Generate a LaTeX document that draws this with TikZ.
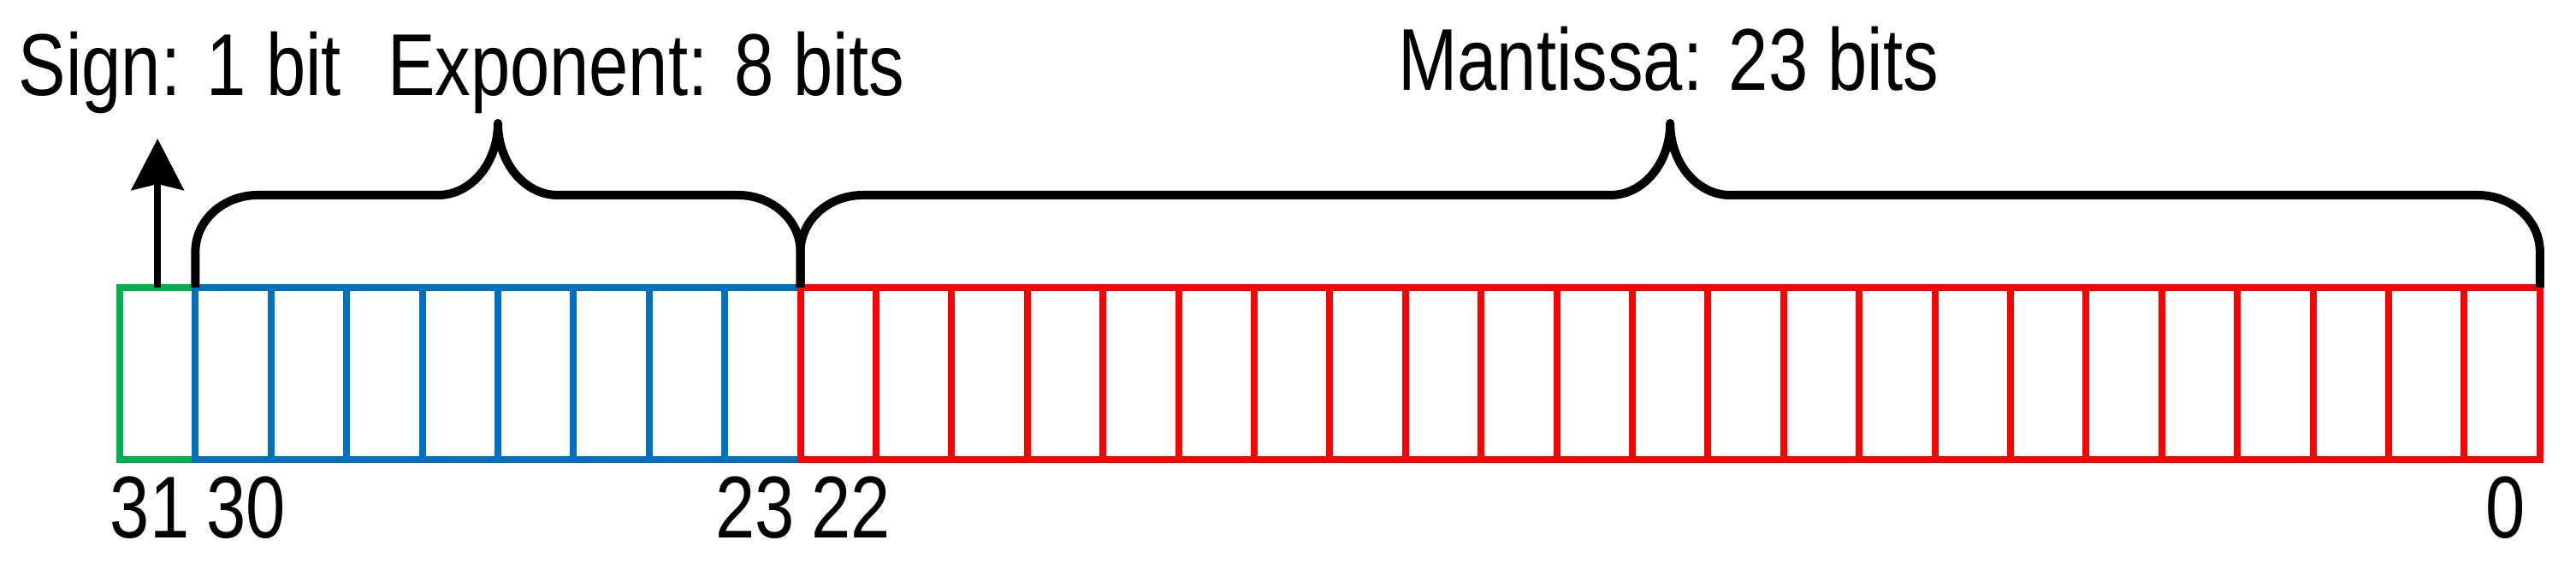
\documentclass[tikz,border=0pt]{standalone}
\usepackage{fontspec}
\setmainfont[FakeStretch=0.81]{Liberation Sans}
\usepackage{tikz}
\usetikzlibrary{calc, positioning, arrows.meta}

\definecolor{signgreen}{HTML}{00B050}
\definecolor{expblue}{HTML}{0070C0}
\definecolor{mantred}{HTML}{FF0000}

\tikzset{
  bitcell/.style={draw, line width=0.08cm, minimum width=0.884cm, minimum height=2.01cm, inner sep=0pt, outer sep=0pt},
  bitnum/.style={inner sep=0pt, anchor=base, font=\fontsize{29.2}{35}\selectfont},
  fieldname/.style={inner sep=0pt, anchor=base, font=\fontsize{29.2}{35}\selectfont},
  bracket/.style={line width=0.1cm, line join=round}
}

\begin{document}
\begin{tikzpicture}

  \useasboundingbox (0,0) rectangle (30.11,6.59);

  % bit cells

  \node[bitcell, draw=signgreen] (c31) at ({1.40+0.5*0.884},2.225) {};
  \foreach \i in {30,...,23}
    \node[bitcell, draw=expblue] (c\i) at ({1.40+(31.5-\i)*0.884},2.225) {};
  \foreach \i in {22,...,0}
    \node[bitcell, draw=mantred] (c\i) at ({1.40+(31.5-\i)*0.884},2.225) {};

  % bit numbers

  \node[bitnum] (n31) at ($(c31.south)+(-0.09,-0.92)$) {31};
  \node[bitnum] (n30) at ($(c30.south)+(0.15,-0.92)$) {30};
  \node[bitnum] (n23) at ($(c23.south)+(-0.09,-0.92)$) {23};
  \node[bitnum] (n22) at ($(c22.south)+(0.15,-0.92)$) {22};
  \node[bitnum] (n0) at ($(c0.south)+(0.04,-0.92)$) {0};

  % sign arrow

  \coordinate (signtip) at ($(c31.north)+(0,1.74)$);
  \draw[line width=0.08cm, -{Stealth[length=0.6cm, width=0.61cm, inset=0.07cm]}] (c31.north) -- (signtip);

  % braces

  \coordinate (etip) at ($(c30.north west)!.5!(c23.north east)+(0,1.92)$);
  \coordinate (mtip) at ($(c22.north west)!.5!(c0.north east)+(0,1.92)$);

  \draw[bracket] (c30.north west) -- ++(0,0.42)
    arc[start angle=180, end angle=90, x radius=0.73, y radius=0.66]
    -- ($(etip)+(-0.7,-0.84)$)
    arc[start angle=270, end angle=360, x radius=0.7, y radius=0.84]
    arc[start angle=180, end angle=270, x radius=0.7, y radius=0.84]
    -- ($(c23.north east)+(-0.73,1.08)$)
    arc[start angle=90, end angle=0, x radius=0.73, y radius=0.66]
    -- (c23.north east);

  \draw[bracket] (c22.north west) -- ++(0,0.42)
    arc[start angle=180, end angle=90, x radius=0.73, y radius=0.66]
    -- ($(mtip)+(-0.7,-0.84)$)
    arc[start angle=270, end angle=360, x radius=0.7, y radius=0.84]
    arc[start angle=180, end angle=270, x radius=0.7, y radius=0.84]
    -- ($(c0.north east)+(-0.73,1.08)$)
    arc[start angle=90, end angle=0, x radius=0.73, y radius=0.66]
    -- (c0.north east);

  % field names

  \node[fieldname, anchor=base west] (sign) at (0.21,5.475) {Sign: 1 bit};
  \node[fieldname] (exponent) at (7.55,5.475) {Exponent: 8 bits};
  \node[fieldname] (mantissa) at ($(mtip)+(-0.02,0.38)$) {Mantissa: 23 bits};

\end{tikzpicture}
\end{document}
